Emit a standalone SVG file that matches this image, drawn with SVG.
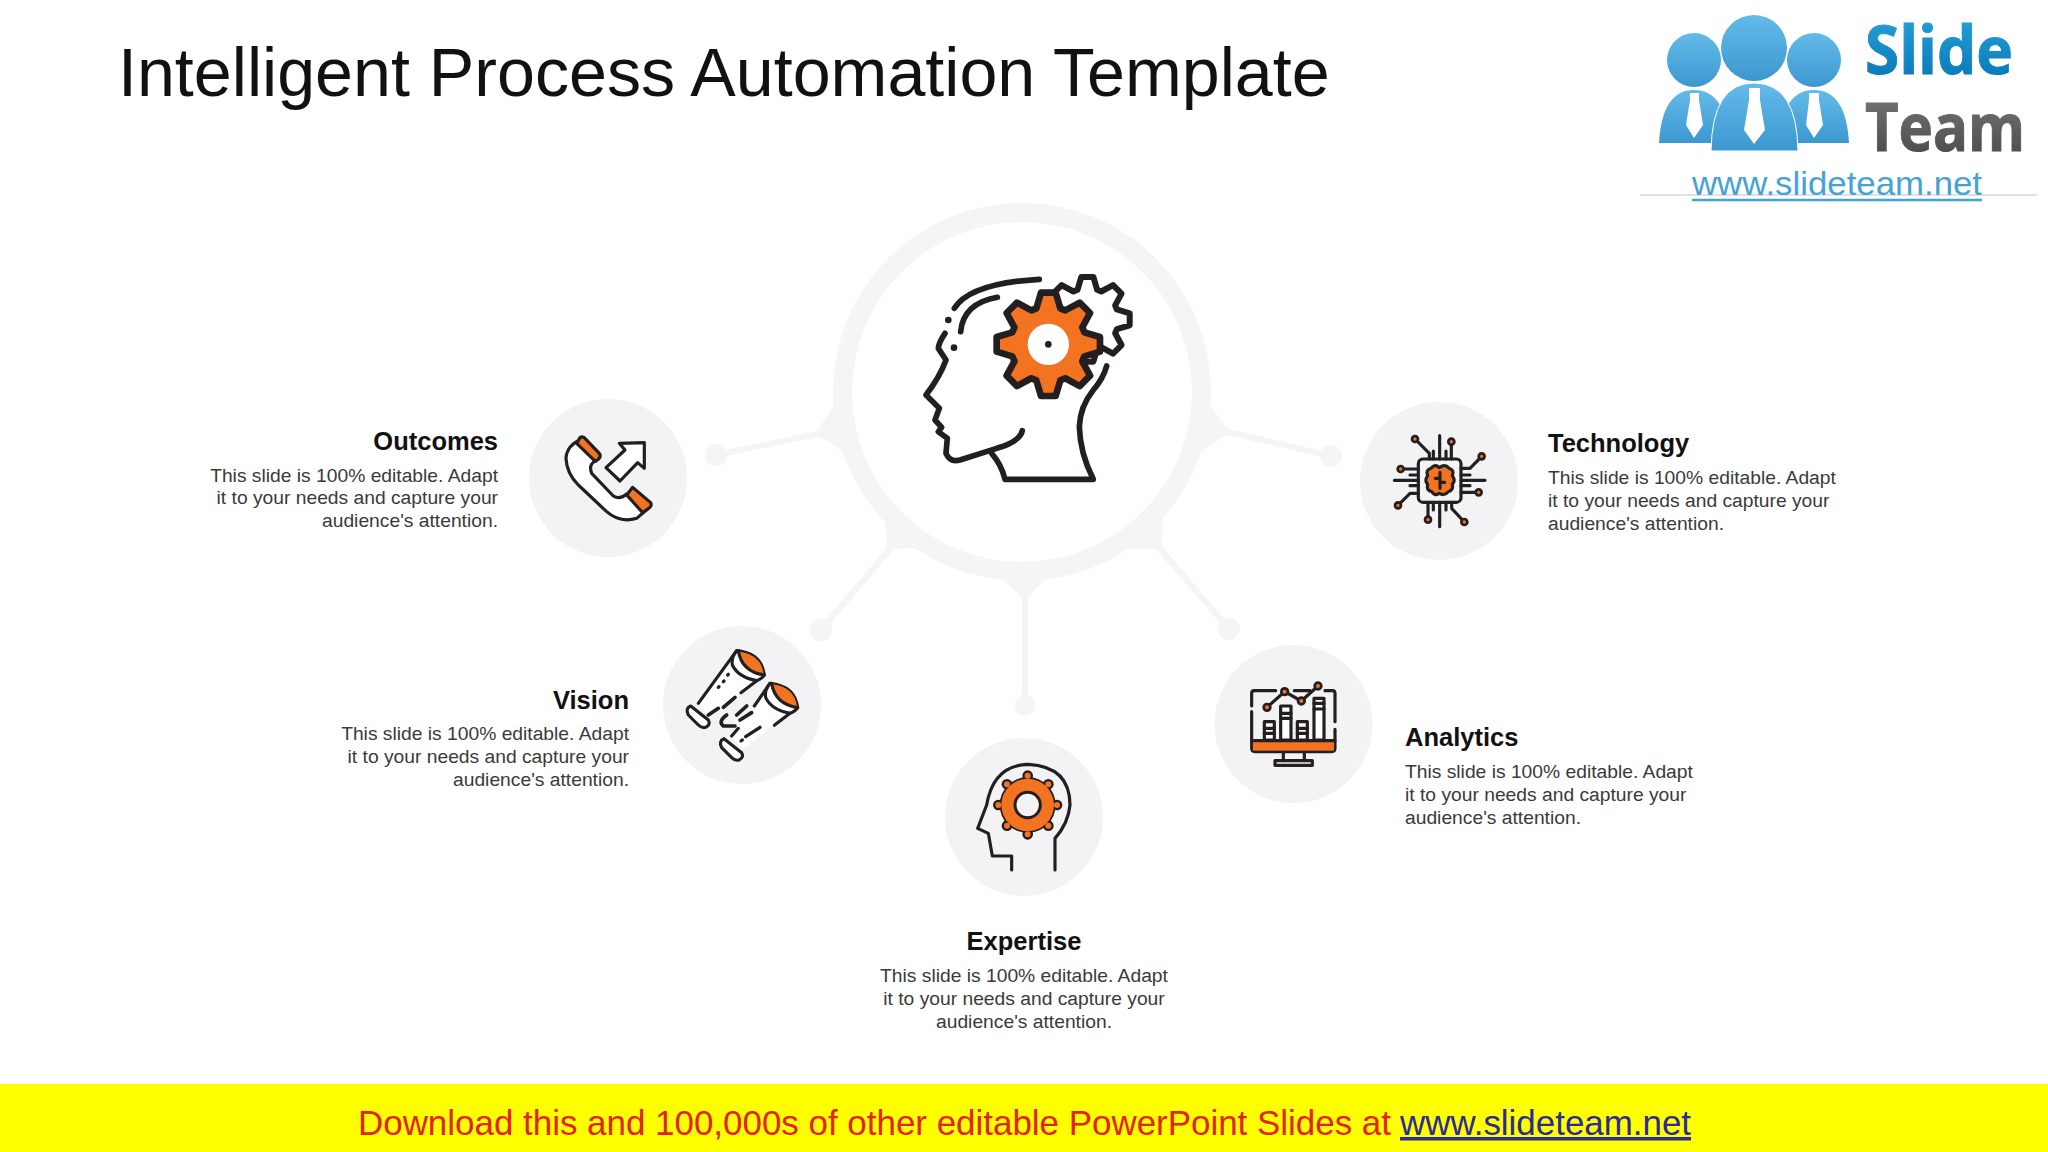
<svg xmlns="http://www.w3.org/2000/svg" xmlns:xlink="http://www.w3.org/1999/xlink" width="2048" height="1152" viewBox="0 0 2048 1152">
<style>
text{font-family:"Liberation Sans",Arial,sans-serif}
.ttl{font-size:68.2px;fill:#111}
.lab{font-size:25.5px;font-weight:bold;fill:#111}
.bod{font-size:19.25px;fill:#3a3a3a}
.end{text-anchor:end}
.mid{text-anchor:middle}
.bg{fill:#f3f2f4}
.hl{fill:#f5f4f6}
.ln{fill:none;stroke:#231f20;stroke-linecap:round;stroke-linejoin:round}
.s18{stroke-width:17}
.s9{stroke-width:9.5}
.or{fill:#f37320}
.wh{fill:#fff}
.spoke{stroke:#f5f4f6;stroke-width:6;fill:none}
.skin{fill:url(#blue)}
</style>
<defs>
<linearGradient id="blue" x1="0" y1="0" x2="0" y2="1"><stop offset="0" stop-color="#63bbe9"/><stop offset="1" stop-color="#3d97cf"/></linearGradient>
<linearGradient id="sl" x1="0" y1="0" x2="0" y2="1"><stop offset="0" stop-color="#2aa9df"/><stop offset="1" stop-color="#0470b0"/></linearGradient>
<linearGradient id="tm" x1="0" y1="0" x2="0" y2="1"><stop offset="0" stop-color="#7d7d7d"/><stop offset="1" stop-color="#444"/></linearGradient>
<path id="gear" d="M-36,-108 L-22,-155 L22,-155 L36,-108 L50.9,-101.8 L94,-125.2 L125.2,-94 L101.8,-50.9 L108,-36 L155,-22 L155,22 L108,36 L101.8,50.9 L125.2,94 L94,125.2 L50.9,101.8 L36,108 L22,155 L-22,155 L-36,108 L-50.9,101.8 L-94,125.2 L-125.2,94 L-101.8,50.9 L-108,36 L-155,22 L-155,-22 L-108,-36 L-101.8,-50.9 L-125.2,-94 L-94,-125.2 L-50.9,-101.8 Z"/>
<g id="barrel">
<polygon class="wh" points="245,92 130,250 160,292 305,182"/>
<path class="ln s9" d="M305,182 L258,218"/>
<path class="wh ln s9" d="M245,92 Q228,112 232,135 Q250,172 305,182 Q322,175 328,165 Q320,100 245,92Z"/>
<path class="or" d="M250,95 Q318,102 326,162 Q262,152 250,95Z"/>
<path class="ln s9" d="M250,92 Q260,155 328,165"/>
<path class="wh ln s9" d="M107,258 L160,300 Q168,314 152,322 Q140,325 130,315 L100,285 Q90,265 107,258Z"/>
</g>
</defs>
<rect width="2048" height="1152" fill="#fff"/>

<g id="connectors">
<circle class="hl" cx="716" cy="455" r="11"/><path class="spoke" d="M716,455 L822,433"/>
<circle class="hl" cx="821" cy="630" r="11"/><path class="spoke" d="M821,630 L890,549"/>
<circle class="hl" cx="1025" cy="705.5" r="10.5"/><path class="spoke" d="M1025,705 V595"/>
<circle class="hl" cx="1229" cy="629" r="11"/><path class="spoke" d="M1229,629 L1160,549"/>
<circle class="hl" cx="1331" cy="456" r="11"/><path class="spoke" d="M1331,456 L1224,431"/>
<polygon class="hl" points="834,405 817,431 820,437 844,452"/>
<polygon class="hl" points="1210,405 1228,429 1226,435 1200,452"/>
<polygon class="hl" points="885,518 887,549 917,548 930,540 900,510"/>
<polygon class="hl" points="1163,515 1162,549 1125,549 1110,540 1140,510"/>
<polygon class="hl" points="1000,577 1048,577 1025,600"/>
</g>

<text class="ttl" x="118" y="96">Intelligent Process Automation Template</text>

<g id="hub">
<circle cx="1022" cy="392" r="179.5" fill="#fff" stroke="#f5f4f6" stroke-width="19"/>
<g transform="translate(820,190) scale(.33333)">
<path class="ln s18" d="M375,430 Q355,460 355,475 L378,510 Q360,560 318,615 L358,655 L345,690 L365,712 L355,725 L382,745 L378,790 Q390,818 420,810 L530,775 Q600,755 607,722"/>
<path class="ln s18" d="M515,790 Q545,825 555,868 H820 Q780,790 778,710 Q780,650 820,600 Q850,565 860,528"/>
<path class="ln s18" d="M403,355 Q450,280 658,268"/>
<path class="ln s18" d="M422,425 Q430,340 532,322"/>
<circle cx="385" cy="390" r="10" fill="#231f20"/><circle cx="402" cy="473" r="10" fill="#231f20"/>
<use xlink:href="#gear" href="#gear" transform="translate(802,388) scale(.82)" fill="#fff" stroke="#231f20" stroke-width="22" stroke-linejoin="round"/>
<use xlink:href="#gear" href="#gear" transform="translate(685,463)" class="or" stroke="#231f20" stroke-width="20" stroke-linejoin="round"/>
<circle cx="685" cy="463" r="62" fill="#fff"/><circle cx="685" cy="463" r="10" fill="#231f20"/>
</g>
</g>

<g id="outcomes">
<circle class="bg" cx="608" cy="478" r="79"/>
<g transform="translate(520,390) scale(.33333)">
<path class="ln s9" style="fill:#fff" d="M190,145 Q140,165 138,205 Q140,250 175,285 L260,365 Q300,400 350,385 L385,355 L320,312 Q300,330 280,318 L215,250 Q205,225 225,213Z"/>
<path class="ln s9" style="fill:#f37320" d="M180,143 Q188,138 195,145 L238,190 Q244,198 236,207 L226,214 L170,160Z"/>
<path class="ln s9" style="fill:#f37320" d="M338,292 L392,338 Q396,345 390,352 L368,368 L320,315Z"/>
<path class="ln s9" style="fill:#fff" d="M373,158 L298,160 L315,180 L258,233 L300,273 L353,218 L373,235Z"/>
</g>
<text class="lab end" x="498" y="450">Outcomes</text>
<text class="bod end" x="498" y="481.5">This slide is 100% editable. Adapt</text>
<text class="bod end" x="498" y="504">it to your needs and capture your</text>
<text class="bod end" x="498" y="527">audience's attention.</text>
</g>

<g id="technology">
<circle class="bg" cx="1439" cy="481" r="79"/>
<g transform="translate(1350,395) scale(.33333)">
<rect class="ln s9" x="205" y="192" width="128" height="130" rx="14"/>
<path class="ln s9" d="M269,122V192M269,322V395M133,256H205M333,256H405M250,168V192M288,168V192M250,322V345M288,322V345M180,240H205M180,272H205M333,240H360M333,272H360M195,132L238,175V192M304,140V192M395,184L360,220H333M386,292H333M343,381L305,340V322M234,374V322M144,331L180,295H205M152,222H205"/>
<path class="ln s9" style="fill:#f37320" d="M268,218 Q255,205 243,220 Q226,225 233,242 Q222,255 233,268 Q228,285 245,290 Q255,305 268,295 Q282,305 295,290 Q312,285 307,268 Q318,255 307,242 Q314,225 297,220 Q285,205 268,218Z"/>
<path class="ln s9" d="M270,232V280M256,250H270M284,262H270"/>
<g style="fill:#f37320" stroke="#231f20" stroke-width="8">
<circle cx="195" cy="132" r="9"/><circle cx="304" cy="140" r="9"/><circle cx="395" cy="184" r="9"/><circle cx="386" cy="292" r="9"/><circle cx="343" cy="381" r="9"/><circle cx="234" cy="374" r="9"/><circle cx="144" cy="331" r="9"/><circle cx="152" cy="222" r="9"/>
</g>
</g>
<text class="lab" x="1548" y="452">Technology</text>
<text class="bod" x="1548" y="483.5">This slide is 100% editable. Adapt</text>
<text class="bod" x="1548" y="506.5">it to your needs and capture your</text>
<text class="bod" x="1548" y="529.5">audience's attention.</text>
</g>

<g id="vision">
<circle class="bg" cx="742" cy="705" r="79"/>
<g transform="translate(655,620) scale(.33333)">
<use xlink:href="#barrel" href="#barrel"/>
<use xlink:href="#barrel" href="#barrel" transform="translate(100,98)"/>
<path class="ln s9" d="M245,92 L130,250M345,190 L298,258M250,325 L230,348"/>
<path class="ln" stroke-width="11" d="M205,262 L240,232M245,285 L275,258M255,300 L290,278M160,285 L190,265"/>
<path class="ln" stroke-width="11" d="M215,285 Q188,305 205,318 L240,318"/>
<path class="ln" stroke-width="10" d="M272,350 L315,322M258,363 L262,360M190,202 L192,200M205,185 L207,183M218,165 L220,163"/>
</g>
<text class="lab end" x="629" y="708.5">Vision</text>
<text class="bod end" x="629" y="739.5">This slide is 100% editable. Adapt</text>
<text class="bod end" x="629" y="762.5">it to your needs and capture your</text>
<text class="bod end" x="629" y="785.5">audience's attention.</text>
</g>

<g id="analytics">
<circle class="bg" cx="1293.5" cy="724" r="79"/>
<g transform="translate(1205,640) scale(.33333)">
<path class="ln s9" d="M140,198 V160 Q140,152 148,152 H212M268,152 H315M360,152 H382 Q390,152 390,160 V245M390,268 V325 Q390,335 380,335 H150 Q140,335 140,325 V215"/>
<rect class="or" x="144" y="304" width="243" height="28"/>
<path class="ln s9" d="M140,302 H390M235,337 V362M298,337 V362"/>
<rect class="ln s9" x="210" y="362" width="112" height="14"/>
<path class="ln s9" style="fill:#fff" d="M178,300 V245 H208 V300ZM227,300 V198 H258 V300ZM277,300 V245 H307 V300ZM327,300 V175 H357 V300Z"/>
<path class="ln s9" d="M178,265 H208M178,280 H208M227,220 H258M227,235 H258M277,265 H307M277,280 H307M327,190 H357M327,207 H357"/>
<path class="ln s9" d="M186,202 L239,155 L289,183 L339,138"/>
<g style="fill:#f37320" stroke="#231f20" stroke-width="8"><circle cx="186" cy="202" r="10"/><circle cx="239" cy="155" r="10"/><circle cx="289" cy="183" r="10"/><circle cx="339" cy="138" r="10"/></g>
</g>
<text class="lab" x="1405" y="746">Analytics</text>
<text class="bod" x="1405" y="777.5">This slide is 100% editable. Adapt</text>
<text class="bod" x="1405" y="800.5">it to your needs and capture your</text>
<text class="bod" x="1405" y="823.5">audience's attention.</text>
</g>

<g id="expertise">
<circle class="bg" cx="1024" cy="817" r="79"/>
<g transform="translate(935,730) scale(.33333)">
<path class="ln s9" d="M230,420 V378 H172 L160,310 L128,295 L155,225 Q175,105 280,103 Q405,110 405,225 Q400,280 360,325 V420"/>
<g fill="#231f20"><circle cx="278" cy="225" r="84"/><circle cx="278" cy="137" r="16"/><circle cx="340" cy="163" r="16"/><circle cx="366" cy="225" r="16"/><circle cx="340" cy="287" r="16"/><circle cx="278" cy="313" r="16"/><circle cx="216" cy="287" r="16"/><circle cx="190" cy="225" r="16"/><circle cx="216" cy="163" r="16"/></g>
<g style="fill:#f37320"><circle cx="278" cy="137" r="9"/><circle cx="340" cy="163" r="9"/><circle cx="366" cy="225" r="9"/><circle cx="340" cy="287" r="9"/><circle cx="278" cy="313" r="9"/><circle cx="216" cy="287" r="9"/><circle cx="190" cy="225" r="9"/><circle cx="216" cy="163" r="9"/><circle cx="278" cy="225" r="79"/></g>
<circle cx="278" cy="225" r="38" fill="#f3f2f4" stroke="#231f20" stroke-width="9"/>
</g>
<text class="lab mid" x="1024" y="950">Expertise</text>
<text class="bod mid" x="1024" y="981.5">This slide is 100% editable. Adapt</text>
<text class="bod mid" x="1024" y="1004.5">it to your needs and capture your</text>
<text class="bod mid" x="1024" y="1027.5">audience's attention.</text>
</g>

<g id="logo">
<path d="M1640,195 H2037" stroke="#d8d8d8" stroke-width="1.5"/>
<circle class="skin" cx="1694" cy="60" r="27"/>
<circle class="skin" cx="1814" cy="60" r="27"/>
<circle class="skin" cx="1754" cy="48" r="33"/>
<path class="skin" d="M1659,143 Q1662,90 1694,90 Q1726,90 1730,143Z"/>
<path class="skin" d="M1778,143 Q1782,90 1814,90 Q1846,90 1849,143Z"/>
<path d="M1711,151 Q1712,83 1754,83 Q1797,83 1798,151Z" fill="url(#blue)" stroke="#fff" stroke-width="1"/>
<path class="wh" d="M1690,93 H1699 V100 L1703,125 L1694,138 L1686,125 L1690,100Z"/>
<path class="wh" d="M1749,88 H1760 V100 L1765,130 L1754,144 L1744,130 L1749,100Z"/>
<path class="wh" d="M1809,93 H1819 V100 L1823,125 L1814,138 L1806,125 L1809,100Z"/>
<text x="1865" y="74" font-size="66" font-weight="bold" fill="url(#sl)" stroke="url(#sl)" stroke-width="1" textLength="148" lengthAdjust="spacingAndGlyphs" style="font-family:'Open Sans',sans-serif">Slide</text>
<text x="1865" y="151" font-size="66" font-weight="bold" fill="url(#tm)" stroke="url(#tm)" stroke-width="1" textLength="160" lengthAdjust="spacingAndGlyphs" style="font-family:'Open Sans',sans-serif">Team</text>
<text x="1692" y="195" font-size="33" fill="#45a3d3" textLength="290" lengthAdjust="spacingAndGlyphs">www.slideteam.net</text>
<path d="M1692,200 H1982" stroke="#45a3d3" stroke-width="2.5"/>
</g>

<g id="banner">
<rect y="1084" width="2048" height="68" fill="#ff0"/>
<text x="358" y="1135" font-size="35" fill="#e2231a" textLength="1033" lengthAdjust="spacingAndGlyphs">Download this and 100,000s of other editable PowerPoint Slides at</text>
<text x="1400" y="1135" font-size="35" fill="#2a2a9a" text-decoration="underline" textLength="291" lengthAdjust="spacingAndGlyphs">www.slideteam.net</text>
</g>
</svg>
